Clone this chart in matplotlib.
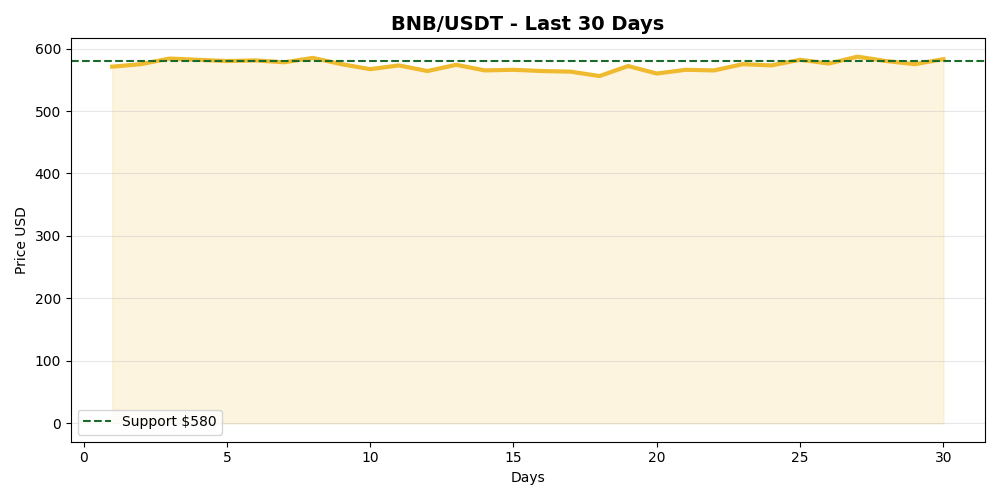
import matplotlib
matplotlib.use("Agg")
import matplotlib.pyplot as plt

# Daily closing prices
days = list(range(1, 31))
prices = [571, 575, 584, 582, 580, 581, 578, 585, 575, 567,
          573, 564, 574, 565, 566, 564, 563, 556, 572, 560,
          566, 565, 575, 573, 582, 576, 587, 580, 575, 583]
support = 580

fig = plt.figure(figsize=(10, 5), dpi=100)
ax = fig.add_subplot(111)

ax.plot(days, prices, color="#F0BA2F", linewidth=3)
ax.fill_between(days, prices, color="#F3BA2F", alpha=0.15)
ax.axhline(support, color="#1a6b2a", linestyle="--", linewidth=1.5, label=f"Support ${support}")

ax.set_title("BNB/USDT - Last 30 Days", fontsize=14, fontweight="bold")
ax.set_xlabel("Days")
ax.set_ylabel("Price USD")
ax.grid(axis="y", alpha=0.3)
ax.legend(loc="lower left")

fig.tight_layout()
plt.savefig("out.png")
